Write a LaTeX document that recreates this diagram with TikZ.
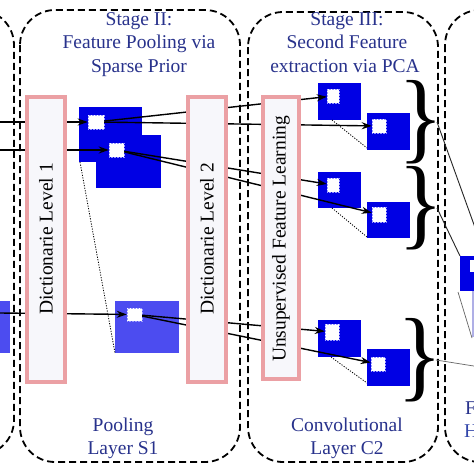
\documentclass[tikz,border=0pt]{standalone}
\usepackage{fontspec}
\setmainfont{Liberation Serif}
\usetikzlibrary{arrows.meta}
\definecolor{navy}{RGB}{40,50,140}
\definecolor{navyl}{RGB}{50,70,170}
\definecolor{dblue}{RGB}{0,0,228}
\definecolor{lblue}{RGB}{76,76,240}
\definecolor{pblue}{RGB}{175,175,230}
\definecolor{pinkb}{RGB}{235,160,164}
\definecolor{pinkf}{RGB}{247,247,251}
\begin{document}
\begin{tikzpicture}[x=1pt,y=-1pt,
  stagebox/.style={draw=black,line width=1.8pt,dash pattern=on 7pt off 4pt,rounded corners=35pt},
  title/.style={text=navy,font=\fontsize{19.5}{23}\selectfont,anchor=base,inner sep=0},
  dict/.style={draw=pinkb,fill=pinkf,line width=4pt},
  dicttext/.style={rotate=90,font=\fontsize{19.5}{23}\selectfont,inner sep=0},
  patch/.style={fill=white,draw=white!60!blue,densely dotted,line width=0.5pt,minimum width=14pt,minimum height=14pt,inner sep=0},
  conn/.style={line width=1.4pt,-{Stealth[length=10pt,width=7pt]}},
  dots/.style={dash pattern=on 1.2pt off 1.4pt,line width=0.8pt},
  braceglyph/.style={inner sep=0,font=\fontsize{20}{20}\selectfont},
  tipline/.style={line width=0.9pt,black!85},
  thinline/.style={line width=0.7pt,black!60}
]
\useasboundingbox (0,0) rectangle (474,474);
\fill[white] (0,0) rectangle (474,474);
\clip (0,0) rectangle (474,474);

% stage boxes
\draw[stagebox] (-200,10) rectangle (14,455);
\draw[stagebox] (20,10) rectangle (240,462);
\draw[stagebox] (248,12) rectangle (438,462);
\draw[stagebox] (445,10) rectangle (700,462);

% titles
\node[title] (t2a) at (139,25) {Stage II:};
\node[title] (t2b) at (139,48) {Feature Pooling via};
\node[title] (t2c) at (139,72) {Sparse Prior};
\node[title] (t3a) at (347,25) {Stage III:};
\node[title] (t3b) at (347,48) {Second Feature};
\node[title] (t3c) at (345,72) {extraction via PCA};
\node[title] (b2a) at (123,431) {Pooling};
\node[title] (b2b) at (123,454) {Layer S1};
\node[title] (b3a) at (347,431) {Convolutional};
\node[title] (b3b) at (347,454) {Layer C2};
\node[title,anchor=base west] (b4a) at (465,414) {F};
\node[title,anchor=base west,text=navyl] (b4b) at (464,437) {H};

% blue squares stage II
\fill[lblue] (-40,301) rectangle (10,353);
\fill[dblue] (79,107) rectangle (142,162);
\fill[dblue] (96,135) rectangle (161,188);
\fill[lblue] (115,301) rectangle (179,353);
\draw[dots] (80,162) -- (115,353);

% blue squares stage III
\fill[dblue] (318,83) rectangle (361,120);
\fill[dblue] (367,113) rectangle (410,150);
\fill[dblue] (318,172) rectangle (361,208);
\fill[dblue] (367,202) rectangle (410,238);
\fill[dblue] (318,320) rectangle (361,357);
\fill[dblue] (367,349) rectangle (410,386);
\draw[dots] (332,120) -- (367,148);
\draw[dots] (332,208) -- (367,237);
\draw[dots] (331,357) -- (367,383);

% right partial squares
\fill[pblue] (472,285) rectangle (500,337);
\fill[dblue] (460,256) rectangle (500,291);
\fill[white] (470,260) rectangle (500,272);
\draw[thinline] (458,292) -- (472,338);

% patches
\node[patch,minimum width=16pt] (p1) at (96,122) {};
\node[patch,minimum width=15pt] (p2) at (116.5,150) {};
\node[patch,minimum width=15pt,minimum height=13pt] (p3) at (134.5,314.5) {};
\node[patch,minimum width=12pt] (qa1) at (333,96) {};
\node[patch] (qa2) at (379,126) {};
\node[patch,minimum width=12pt] (qb1) at (333,185) {};
\node[patch,minimum height=15pt] (qb2) at (379,214.5) {};
\node[patch,minimum height=16pt] (qc1) at (332,332) {};
\node[patch] (qc2) at (378,364) {};

% input coordinates
\coordinate (in1) at (0,122);
\coordinate (in2) at (0,150);
\coordinate (in3) at (0,313);

% connectors
\draw[conn] (in1) -- (p1);
\draw[conn] (in2) -- (p2);
\draw[conn] (in3) -- (p3);
\draw[conn] (p1) -- (qa1);
\draw[conn] (p1) -- (qa2);
\draw[conn] (p2) -- (qb1);
\draw[conn] (p2) -- (qb2);
\draw[conn] (p3) -- (qc1);
\draw[conn] (p3) -- (qc2);

% pink dictionary boxes
\draw[dict] (27,97) rectangle (65,382);
\node[dicttext] (d1) at (46,239) {Dictionarie Level 1};
\draw[dict] (188,97) rectangle (226,382);
\node[dicttext] (d2) at (207,239) {Dictionarie Level 2};
\draw[dict] (263,97) rectangle (299,379);
\node[dicttext] (d3) at (281,239) {Unsupervised Feature Learning};

% braces
\node[braceglyph] (br1) at (421,122) {\scalebox{4.7}[5.05]{\}}};
\node[braceglyph] (br2) at (421,208) {\scalebox{4.7}[5.05]{\}}};
\node[braceglyph] (br3) at (420,360) {\scalebox{4.7}[5.05]{\}}};
\coordinate (tip1) at (437,122);
\coordinate (tip2) at (437,208);
\coordinate (tip3) at (436,360);
\coordinate (out1) at (486,258);
\coordinate (rsq) at (460,256);
\coordinate (out3) at (480,367);
\draw[tipline] (tip1) -- (out1);
\draw[tipline] (tip2) -- (rsq);
\draw[thinline] (tip3) -- (out3);
\end{tikzpicture}
\end{document}
